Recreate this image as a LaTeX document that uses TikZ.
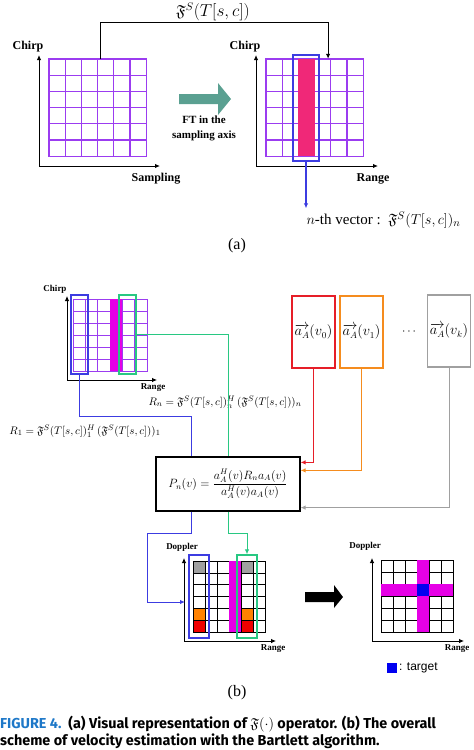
\documentclass[tikz,border=0pt]{standalone}
\usepackage{amsmath,amssymb}
\usepackage{fontspec}
\setmainfont{Liberation Serif}
\newfontfamily\capfont{Fira Sans}
\newfontfamily\legfont{Liberation Sans}
\usetikzlibrary{arrows.meta}

\definecolor{gridpurple}{RGB}{155,60,240}
\definecolor{colpink}{RGB}{240,40,120}
\definecolor{colmag}{RGB}{230,0,230}
\definecolor{selblue}{RGB}{60,60,225}
\definecolor{selgreen}{RGB}{40,200,130}
\definecolor{vecred}{RGB}{230,30,40}
\definecolor{vecorange}{RGB}{245,140,30}
\definecolor{vecgray}{RGB}{160,160,160}
\definecolor{cellorange}{RGB}{255,130,0}
\definecolor{cellred}{RGB}{240,0,0}
\definecolor{ftteal}{RGB}{90,160,145}
\definecolor{targetblue}{RGB}{0,0,240}
\definecolor{capblue}{RGB}{30,120,200}

\tikzset{
	axA/.style={font=\bfseries\fontsize{12}{14}\selectfont},
	axB/.style={font=\bfseries\fontsize{9}{11}\selectfont},
	bigmath/.style={font=\fontsize{15}{18}\selectfont},
	midmath/.style={font=\fontsize{11}{13}\selectfont},
	axis/.style={<->,line width=1pt},
	selbox/.style={draw,line width=1.3pt,inner sep=0pt},
	vecbox/.style={draw,line width=1.3pt,minimum width=43pt,minimum height=72pt,inner sep=0pt,font=\fontsize{13.5}{16}\selectfont},
	wire/.style={line width=1pt}
}

\begin{document}
\begin{tikzpicture}[x=1pt,y=-1pt,>={Latex[length=5pt,width=4.5pt]}]
			\useasboundingbox (0,0) rectangle (474,750);
			% (a)
			\begin{scope}[shift={(49,59)}]
				\foreach \c in {0,...,5} \foreach \r in {0,...,5}
					\draw[gridpurple,line width=1.1pt] (\c*16.2,\r*16.2) rectangle ++(16.2,16.2);
			\end{scope}
			\begin{scope}[shift={(266,59)}]
				\foreach \c in {0,...,5} \foreach \r in {0,...,5}
					\draw[gridpurple,line width=1.1pt] (\c*16.2,\r*16.2) rectangle ++(16.2,16.2);
			\end{scope}
			\fill[colpink] (298.4,59) rectangle (314.6,156.2);
			\draw (97.6,107.6) node [minimum width=97.2pt,minimum height=97.2pt,inner sep=0pt] (rawgrid) {};
			\draw (314.6,107.6) node [minimum width=97.2pt,minimum height=97.2pt,inner sep=0pt] (rangegrid) {};
			\draw (306,108) node [selbox,draw=selblue,minimum width=26pt,minimum height=106pt] (nsel) {};
			\draw[axis] (39,55) |- (160,166);
			\draw[axis] (256,55) |- (378,166);
			\draw (28,47) node [axA] (chirpA) {Chirp};
			\draw (156,179) node [axA] (sampA) {Sampling};
			\draw (245,47) node [axA] (chirpB) {Chirp};
			\draw (373,179) node [axA] (rangeA) {Range};
			\fill[ftteal] (179,94) -- (218,94) -- (218,83) -- (231,99) -- (218,115) -- (218,104) -- (179,104) -- cycle;
			\draw (204,128) node [align=center,font=\bfseries\fontsize{11}{15}\selectfont] (ftnote) {FT in the\\sampling axis};
			\draw (213,12) node [font=\fontsize{16}{18}\selectfont] (ftlabel) {$\mathfrak{F}^S(T[s,c])$};
			\draw[->,line width=1.1pt] ([xshift=2.5pt]rawgrid.north) -- ++(0,-36) -| ([xshift=13.5pt]rangegrid.north);
			\draw (303,220) node [bigmath,anchor=west] (nvec) {$n$-th vector :\ \ $\mathfrak{F}^S(T[s,c])_n$};
			\draw[->,selblue,line width=1.2pt] (nsel.south) -- (nsel.south |- nvec.north);
			\draw (237,246) node [font=\fontsize{16}{18}\selectfont] (capa) {(a)};
			% (b)
			\begin{scope}[shift={(73,299)}]
				\foreach \c in {0,...,5} \foreach \r in {0,...,5}
					\draw[gridpurple,line width=0.8pt] (\c*12.33,\r*12) rectangle ++(12.33,12);
			\end{scope}
			\fill[colmag] (110,299) rectangle (122.3,371);
			\draw[axis,line width=0.8pt] (67,296) |- (157,380);
			\draw (55,289) node [axB] (chirpC) {Chirp};
			\draw (153,388) node [axB] (rangeB) {Range};
			\draw (79.5,334.5) node [selbox,draw=selblue,minimum width=17pt,minimum height=79pt] (selone) {};
			\draw (127.5,334.5) node [selbox,draw=selgreen,minimum width=17pt,minimum height=79pt] (seln) {};
			\draw (313.5,332) node [vecbox,draw=vecred] (veczero) {$\overrightarrow{a_A}(v_0)$};
			\draw (361.5,332) node [vecbox,draw=vecorange] (vecone) {$\overrightarrow{a_A}(v_1)$};
			\draw (410,332) node [font=\fontsize{13}{15}\selectfont] (vecdots) {$\cdots$};
			\draw (449,331) node [vecbox,draw=vecgray] (veck) {$\overrightarrow{a_A}(v_k)$};
			\draw (228,484) node [draw,line width=1.2pt,minimum width=144pt,minimum height=54pt,font=\fontsize{12}{14}\selectfont] (pbox) {$P_n(v) = \dfrac{a_A^H(v) R_n a_A(v)}{a_A^H(v) a_A(v)}$};
			\draw (225,402) node [midmath] (rnlabel) {$R_n = \mathfrak{F}^S(T[s,c])_n^H\,(\mathfrak{F}^S(T[s,c]))_n$};
			\draw (85,431) node [midmath] (ronelabel) {$R_1 = \mathfrak{F}^S(T[s,c])_1^H\,(\mathfrak{F}^S(T[s,c]))_1$};
			\draw[wire,selblue] (selone.south) -- ++(0,42) -| ([xshift=36pt]pbox.north west);
			\draw[wire,selgreen] (seln.east) -| (pbox.north);
			\draw[wire,->,vecred] (veczero.south) |- ([yshift=-6pt]pbox.north east);
			\draw[wire,->,vecorange] (vecone.south) |- ([yshift=-14pt]pbox.north east);
			\draw[wire,->,vecgray] (veck.south) |- ([yshift=4pt]pbox.south east);
			% range-doppler maps
			\fill[vecgray] (193,561) rectangle ++(12.1,11.9);
			\fill[vecgray] (241.4,561) rectangle ++(12.1,11.9);
			\fill[cellorange] (193,608.6) rectangle ++(12.1,11.9);
			\fill[cellorange] (241.4,608.6) rectangle ++(12.1,11.9);
			\fill[cellred] (193,620.5) rectangle ++(12.1,11.9);
			\fill[cellred] (241.4,620.5) rectangle ++(12.1,11.9);
			\begin{scope}[shift={(193,561)}]
				\foreach \c in {0,...,5} \foreach \r in {0,...,5}
					\draw[line width=0.8pt] (\c*12.1,\r*11.9) rectangle ++(12.1,11.9);
			\end{scope}
			\fill[colmag] (229.3,561) rectangle (241.4,632.4);
			\draw (199,596.5) node [selbox,draw=selblue,minimum width=20pt,minimum height=83pt] (selmone) {};
			\draw (247,596.5) node [selbox,draw=selgreen,minimum width=20pt,minimum height=83pt] (selmn) {};
			\draw[axis,line width=0.8pt] (184,558) |- (276,641);
			\coordinate (dopin) at (185,602);
			\draw (182,547) node [axB] (dopA) {Doppler};
			\draw (273,649) node [axB] (rangeC) {Range};
			\draw[wire,->,selblue] ([xshift=36pt]pbox.south west) -- ++(0,22) -- ++(-44,0) |- (dopin);
			\draw[wire,->,selgreen] (pbox.south) -- ++(0,22) -| (selmn.north);
			\fill (305,592) -- (334,592) -- (334,585) -- (343,597) -- (334,608) -- (334,602) -- (305,602) -- cycle;
			\begin{scope}[shift={(381,560)}]
				\foreach \c in {0,...,5} \foreach \r in {0,...,5}
					\draw[line width=0.8pt] (\c*12,\r*12) rectangle ++(12,12);
			\end{scope}
			\fill[colmag] (381,584) rectangle (453,596);
			\fill[colmag] (417,560) rectangle (429,632);
			\fill[targetblue] (417,584) rectangle (429,596);
			\draw[axis,line width=0.8pt] (372,558) |- (464,641);
			\draw (365,546) node [axB] (dopB) {Doppler};
			\draw (457,649) node [axB] (rangeD) {Range};
			\draw (392,668) node [fill=targetblue,minimum size=10pt,inner sep=0pt] (tgtkey) {};
			\draw (399,668) node [anchor=west,inner sep=0pt,font=\legfont\fontsize{12}{14}\selectfont] (tgttext) {: target};
			\draw (237,693) node [font=\fontsize{16}{18}\selectfont] (capb) {(b)};
			\draw (0,716) node [anchor=north west,inner sep=0pt,align=left,font=\capfont\bfseries\fontsize{14.4}{17}\selectfont] (caption) {{\color{capblue}FIGURE 4.}\ \ (a) Visual representation of $\mathfrak{F}(\cdot)$ operator. (b) The overall\\scheme of velocity estimation with the Bartlett algorithm.};
		\end{tikzpicture}
\end{document}
